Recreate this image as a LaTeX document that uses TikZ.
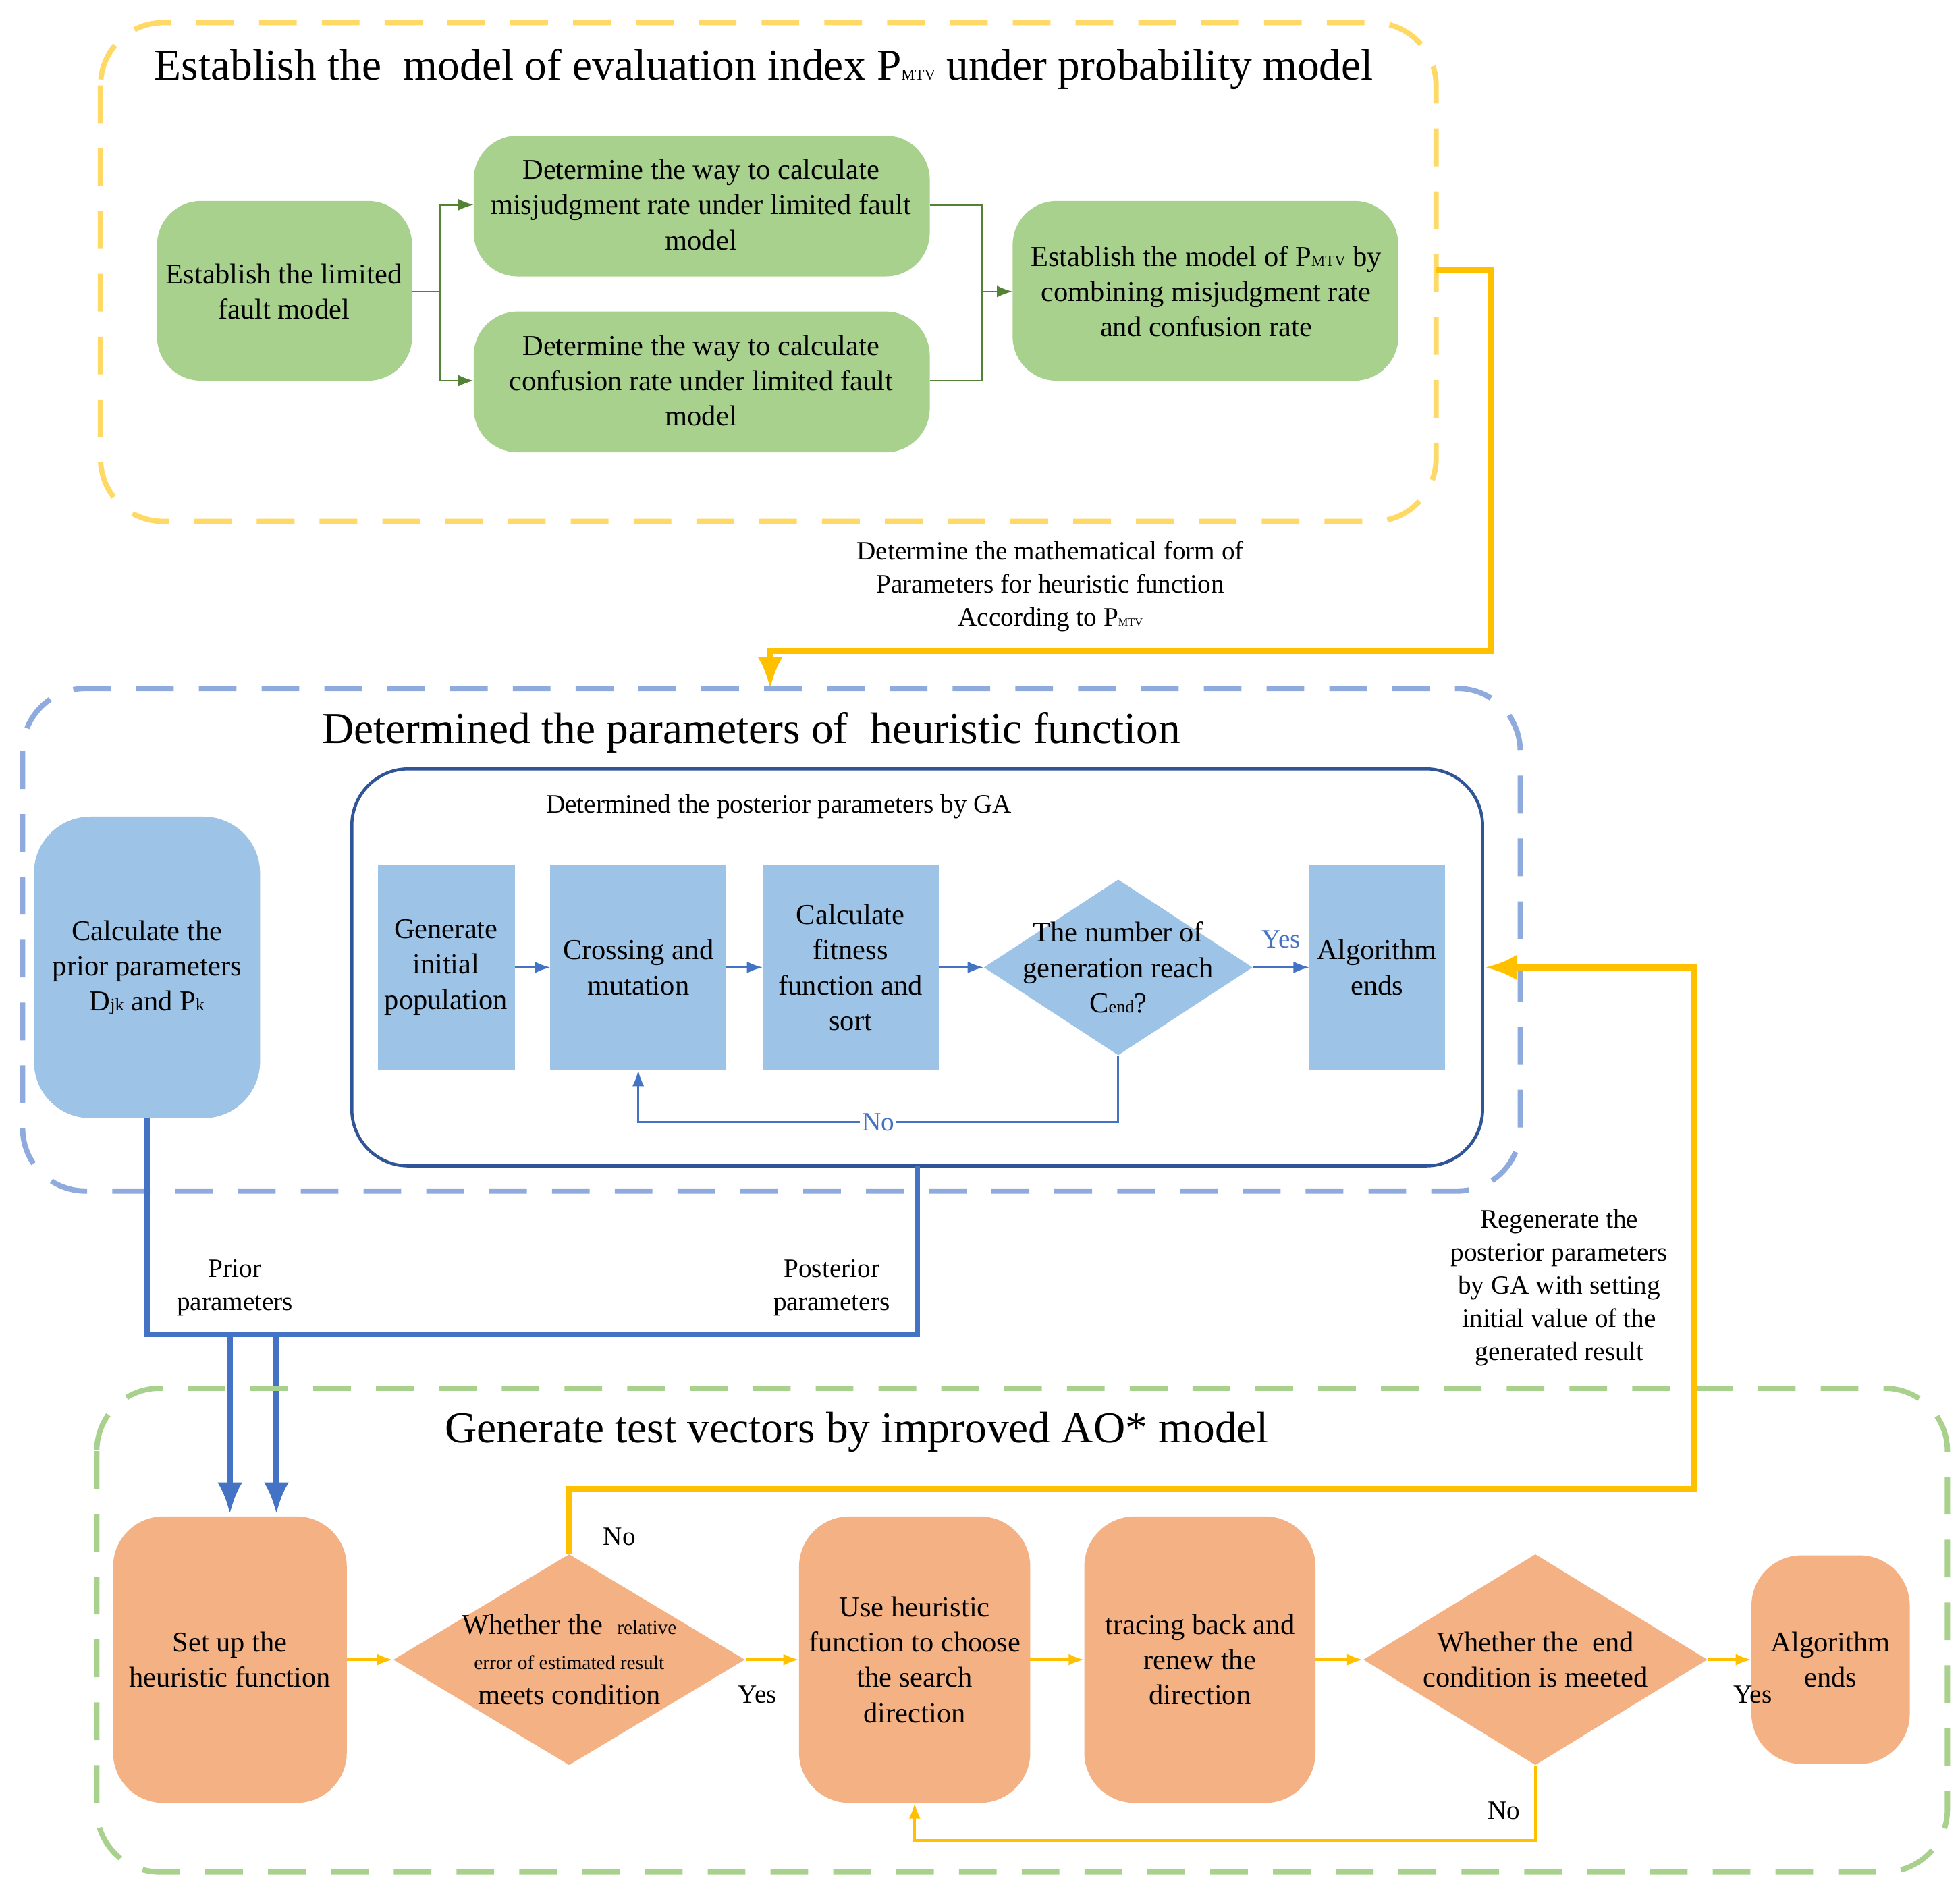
\documentclass[tikz,border=0pt]{standalone}
\usepackage{fontspec}
\setmainfont{Liberation Serif}
\usepackage{xcolor}
\usetikzlibrary{calc, arrows.meta, shapes.geometric, positioning}

\definecolor{gfill}{HTML}{A9D18E}
\definecolor{gline}{HTML}{548235}
\definecolor{yline}{HTML}{FFC000}
\definecolor{yframe}{HTML}{FFD966}
\definecolor{bfill}{HTML}{9DC3E6}
\definecolor{bframe}{HTML}{8FAADC}
\definecolor{bline}{HTML}{4472C4}
\definecolor{binner}{HTML}{2F5597}
\definecolor{ofill}{HTML}{F4B183}

\begin{document}
\begin{tikzpicture}[x=0.02cm, y=-0.02cm,
  every node/.style={font=\fontsize{13}{16}\selectfont, align=center},
  frame/.style={line width=2.4pt, dash pattern=on 0.6cm off 0.4cm, rounded corners=1cm},
  title/.style={font=\fontsize{20}{24}\selectfont},
  gbox/.style={fill=gfill, draw=none, rounded corners=0.7cm},
  bbox/.style={fill=bfill, draw=none},
  obox/.style={fill=ofill, draw=none, rounded corners=0.8cm},
  garrow/.style={gline, line width=0.8pt, -{Latex[length=2.5mm]}},
  barrow/.style={bline, line width=0.8pt, -{Latex[length=2.5mm]}},
  oarrow/.style={yline, line width=1.2pt, -{Latex[length=2.5mm]}},
  big/.style={line width=2.6pt, -{Latex[length=5mm, width=4mm]}},
  lbl/.style={font=\fontsize{12}{15}\selectfont}]

\useasboundingbox (0,0) rectangle (1560,1500);

% ------------------------------------------------------------------
% TOP: probability model
% ------------------------------------------------------------------
\draw[frame, yframe] (80,18) rectangle (1143,415);
\node[title] (t1) at (608,55) {Establish the \ model of evaluation index P{\scriptsize MTV} under probability model};

\path[gbox] (125,160) rectangle (328,303);
\node (g1) at (226,232) {Establish the limited\\fault model};
\path[gbox] (377,108) rectangle (740,220);
\node (g2) at (558,163) {Determine the way to calculate\\misjudgment rate under limited fault\\model};
\path[gbox] (377,248) rectangle (740,360);
\node (g3) at (558,303) {Determine the way to calculate\\confusion rate under limited fault\\model};
\path[gbox] (806,160) rectangle (1113,303);
\node (g4) at (960,232) {Establish the model of P{\scriptsize MTV} by\\combining misjudgment rate\\and confusion rate};

\coordinate (g1r) at (328,232);
\coordinate (g2l) at (377,163);
\coordinate (g3l) at (377,303);
\coordinate (g2r) at (740,163);
\coordinate (g3r) at (740,303);
\coordinate (g4l) at (806,232);
\draw[garrow] (g1r) -- (350,232) |- (g2l);
\draw[garrow] (g1r) -- (350,232) |- (g3l);
\draw[gline, line width=0.8pt] (g2r) -| (782,303) -- (g3r);
\draw[garrow] (782,232) -- (g4l);

% yellow link down
\coordinate (yt) at (1143,215);
\coordinate (yb) at (613,548);
\draw[big, yline] (yt) -- (1187,215) |- (613,518) -- (yb);
\node[lbl] (l1) at (836,467) {Determine the mathematical form of\\Parameters for heuristic function\\According to P{\tiny MTV}};

% ------------------------------------------------------------------
% MIDDLE: heuristic parameters
% ------------------------------------------------------------------
\draw[frame, bframe] (18,548) rectangle (1210,948);
\node[title] (t2) at (598,583) {Determined the parameters of \ heuristic function};

\path[bbox, rounded corners=0.9cm] (27,650) rectangle (207,890);
\node (p0) at (117,770) {Calculate the\\prior parameters\\D{\footnotesize jk} and P{\footnotesize k}};

\draw[binner, line width=1.4pt, rounded corners=0.9cm] (280,612) rectangle (1180,928);
\node[lbl] (t3) at (620,642) {Determined the posterior parameters by GA};

\path[bbox] (301,688) rectangle (410,852);
\node (b1) at (355,770) {Generate\\initial\\population};
\path[bbox] (438,688) rectangle (578,852);
\node (b2) at (508,770) {Crossing and\\mutation};
\path[bbox] (607,688) rectangle (747,852);
\node (b3) at (677,770) {Calculate\\fitness\\function and\\sort};
\node[diamond, fill=bfill, minimum width=4.28cm, minimum height=2.8cm, inner sep=0pt, aspect=1.53] (b4) at (890,770) {};
\node at (890,770) {The number of\\generation reach\\C{\footnotesize end}?};
\path[bbox] (1042,688) rectangle (1150,852);
\node (b5) at (1096,770) {Algorithm\\ends};

\draw[barrow] (410,770) -- (438,770);
\draw[barrow] (578,770) -- (607,770);
\draw[barrow] (747,770) -- (b4.west);
\draw[barrow] (b4.east) -- node[lbl, above=5pt] {Yes} (1042,770);
\draw[barrow] (b4.south) -- (890,893) -- node[lbl, fill=white, inner sep=1pt] {No} (508,893) -- (508,852);

% prior / posterior links
\coordinate (pin) at (730,928);
\draw[bline, line width=2.6pt] (p0.south |- 0,890) -- (117,1062) -- (730,1062) -- (pin);
\draw[big, bline] (183,1062) -- (183,1205);
\draw[big, bline] (220,1062) -- (220,1205);
\node[lbl] (l2) at (187,1025) {Prior\\parameters};
\node[lbl] (l3) at (662,1025) {Posterior\\parameters};

% ------------------------------------------------------------------
% BOTTOM: improved AO*
% ------------------------------------------------------------------
\draw[frame, gfill] (77,1105) rectangle (1550,1490);
\node[title] (t4) at (682,1140) {Generate test vectors by improved AO* model};

\path[obox] (90,1207) rectangle (276,1435);
\node (o1) at (183,1321) {Set up the\\heuristic function};
\node[diamond, fill=ofill, minimum width=5.6cm, minimum height=3.36cm, inner sep=0pt, aspect=1.67] (d1) at (453,1321) {};
\node at (453,1321) {Whether the \ {\small relative}\\{\small error of estimated result}\\meets condition};
\path[obox] (636,1207) rectangle (820,1435);
\node (o2) at (728,1321) {Use heuristic\\function to choose\\the search\\direction};
\path[obox] (863,1207) rectangle (1047,1435);
\node (o3) at (955,1321) {tracing back and\\renew the\\direction};
\node[diamond, fill=ofill, minimum width=5.48cm, minimum height=3.36cm, inner sep=0pt, aspect=1.63] (d2) at (1222,1321) {};
\node at (1222,1321) {Whether the \ end\\condition is meeted};
\path[obox] (1394,1238) rectangle (1520,1404);
\node (o4) at (1457,1321) {Algorithm\\ends};

\draw[oarrow] (276,1321) -- (d1.west);
\draw[oarrow] (d1.east) -- (636,1321);
\node[lbl] at (603,1349) {Yes};
\draw[oarrow] (820,1321) -- (863,1321);
\draw[oarrow] (1047,1321) -- (d2.west);
\draw[oarrow] (d2.east) -- (1394,1321);
\node[lbl] at (1395,1349) {Yes};
\draw[oarrow] (d2.south) -- (1222,1465) -| (728,1435);
\node[lbl] at (1197,1441) {No};

% regenerate loop
\coordinate (rb) at (1182,770);
\draw[big, yline] (d1.north) -- (453,1185) -| (1348,770) -- (rb);
\node[lbl] at (493,1223) {No};
\node[lbl] (l4) at (1241,1025) {Regenerate the\\posterior parameters\\by GA with setting\\initial value of the\\generated result};

\end{tikzpicture}
\end{document}
